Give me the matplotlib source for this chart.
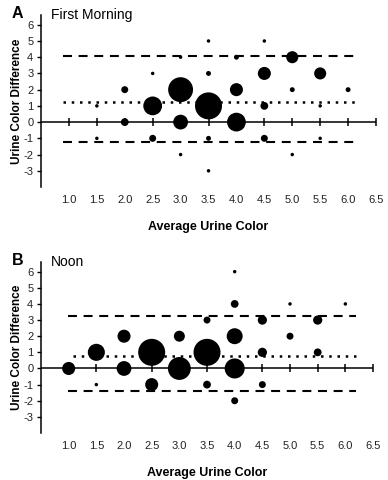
import numpy as np
import matplotlib.pyplot as plt

plt.rcParams['font.family'] = ['Liberation Sans', 'DejaVu Sans']

# panel A - first morning: (average, difference, count)
a_x = [1.5, 1.5, 2.0, 2.0, 2.5, 2.5, 2.5, 3.0, 3.0, 3.0, 3.0,
       3.5, 3.5, 3.5, 3.5, 3.5, 4.0, 4.0, 4.0, 4.5, 4.5, 4.5, 4.5,
       5.0, 5.0, 5.0, 5.5, 5.5, 5.5, 6.0]
a_y = [1, -1, 2, 0, 3, 1, -1, 4, 2, 0, -2,
       5, 3, 1, -1, -3, 4, 2, 0, 5, 3, 1, -1,
       4, 2, -2, 3, 1, -1, 2]
a_n = [1, 1, 4, 5, 1, 29, 4, 1, 51, 18, 1,
       1, 2, 60, 2, 1, 2, 14, 29, 1, 14, 5, 4,
       12, 2, 1, 12, 1, 1, 2]
a_mean = 1.25
a_upper = 4.05
a_lower = -1.25

# panel B - noon
b_x = [1.0, 1.5, 1.5, 2.0, 2.0, 2.5, 2.5, 3.0, 3.0,
       3.5, 3.5, 3.5, 4.0, 4.0, 4.0, 4.0, 4.0, 4.5, 4.5, 4.5,
       5.0, 5.0, 5.5, 5.5, 6.0]
b_y = [0, 1, -1, 2, 0, 1, -1, 2, 0,
       3, 1, -1, 6, 4, 2, 0, -2, 3, 1, -1,
       4, 2, 3, 1, 4]
b_n = [14, 24, 1, 14, 18, 60, 14, 10, 43,
       4, 60, 5, 1, 5, 21, 33, 4, 7, 7, 4,
       1, 4, 7, 5, 1]
b_mean = 0.8
b_upper = 3.28
b_lower = -1.41

xticks = [1.0, 1.5, 2.0, 2.5, 3.0, 3.5, 4.0, 4.5, 5.0, 5.5, 6.0, 6.5]
yticks = [-3, -2, -1, 0, 1, 2, 3, 4, 5, 6]

fig = plt.figure(figsize=(3.88, 4.80), dpi=100)


def panel(rect, xs, ys, ns, mean, upper, lower, letter, title, dash_x, dot_x):
    ax = fig.add_axes(rect)
    ax.set_xlim(0.5, 6.5)
    ax.set_ylim(-4, 6.6)
    for s in ['top', 'right', 'bottom']:
        ax.spines[s].set_visible(False)
    ax.spines['left'].set_linewidth(1.1)
    ax.set_yticks(yticks)
    ax.set_yticklabels([str(v) for v in yticks])
    ax.tick_params(axis='y', length=3, width=1, pad=2.5, labelsize=8,
                   colors='black', labelcolor='#222222')
    ax.set_xticks(xticks)
    ax.set_xticklabels(['%.1f' % v for v in xticks])
    ax.tick_params(axis='x', length=0, pad=6, labelsize=8, labelcolor='#222222')

    # zero line with crossing ticks
    ax.plot([0.5, 6.5], [0, 0], color='black', lw=1.1, zorder=2)
    ax.plot(xticks, [0] * len(xticks), ls='none', marker='|', ms=6,
            mew=1.1, color='black', zorder=2)

    ax.plot(dash_x, [upper, upper], color='black', lw=1.5, dashes=(4.3, 3.2))
    ax.plot(dash_x, [lower, lower], color='black', lw=1.5, dashes=(4.3, 3.2))
    ax.plot(dot_x, [mean, mean], color='black', lw=1.8, dashes=(1, 2.3))

    ax.scatter(xs, ys, s=np.array(ns) * 6.3, color='black', lw=0, zorder=3)

    ax.set_xlabel('Average Urine Color', fontsize=9, fontweight='bold', labelpad=11)
    ax.set_ylabel('Urine Color Difference', fontsize=8.5, fontweight='bold', labelpad=0)
    ax.text(-0.087, 1.01, letter, transform=ax.transAxes, fontsize=11.5,
            fontweight='bold', va='center', ha='left')
    ax.text(0.03, 1.0, title, transform=ax.transAxes, fontsize=10,
            va='center', ha='left')
    return ax


panel([0.1057, 0.6104, 0.8634, 0.3583], a_x, a_y, a_n, a_mean, a_upper, a_lower,
      'A', 'First Morning', [0.89, 6.14], [0.89, 6.14])
panel([0.1057, 0.0979, 0.8557, 0.3563], b_x, b_y, b_n, b_mean, b_upper, b_lower,
      'B', 'Noon', [0.99, 6.2], [1.08, 6.2])

plt.savefig('out.png', dpi=100)
